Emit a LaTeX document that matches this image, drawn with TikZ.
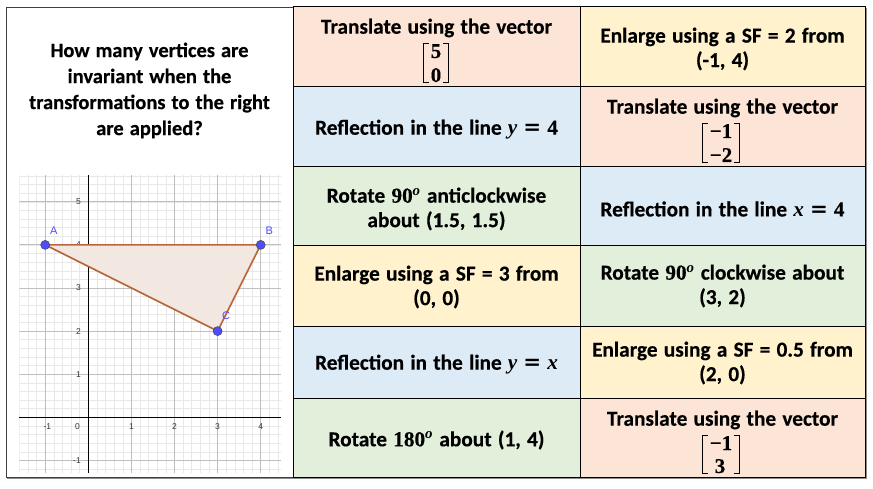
\documentclass[tikz,border=0pt]{standalone}
\usepackage{fontspec}
\usetikzlibrary{fit}
\setmainfont{Carlito}[BoldFeatures={FakeBold=0.4,WordSpace=1.3}]
\newfontfamily\gfont{Liberation Sans}
\newfontfamily\mfont{Liberation Serif}[BoldFeatures={FakeBold=0.3}]
\newfontfamily\dfont{DejaVu Serif}
\definecolor{peach}{HTML}{FCE4D6}
\definecolor{cyel}{HTML}{FFF2CC}
\definecolor{cblue}{HTML}{DDEBF7}
\definecolor{cgreen}{HTML}{E2EFDA}
\definecolor{tri}{HTML}{B8663C}
\definecolor{trifill}{HTML}{F3E7E1}
\definecolor{gblue}{HTML}{4D4DFF}
\tikzset{
  cellbox/.style={draw=black, line width=1pt, inner sep=0pt},
  celltext/.style={inner sep=0pt, align=center, font=\fontsize{21.3}{24.5}\selectfont\bfseries},
  vecdigit/.style={inner sep=0pt, text height=14pt, text depth=0pt, font=\mfont\fontsize{21}{24}\selectfont\bfseries},
  vecbox/.style={inner xsep=6.5pt, inner ysep=0.5pt},
  bracket/.style={draw=black, line width=1.1pt},
  question/.style={align=center, inner sep=0pt, font=\fontsize{20.5}{26}\selectfont\bfseries},
  minorgrid/.style={draw=black!9, line width=0.5pt},
  majorgrid/.style={draw=black!25, line width=0.8pt},
  axisline/.style={draw=black, line width=0.9pt},
  ticklab/.style={font=\gfont\fontsize{8.5}{9}\selectfont, text=black!80, inner sep=0pt},
  ptlab/.style={font=\gfont\fontsize{11}{12}\selectfont, text=gblue, inner sep=0pt},
  vertex/.style={circle, fill=gblue, draw=black!70, line width=0.6pt, minimum size=9pt, inner sep=0pt},
  shadow/.style={draw=black!45, line width=1.6pt}
}
\newcommand{\mv}[1]{{\mfont\bfseries\itshape #1}}
\newcommand{\mn}[1]{{\mfont\bfseries #1}}
\newcommand{\meq}{\hspace{6pt}{\dfont =}\hspace{6pt}}
\newcommand{\degr}[1]{\mn{#1}\textsuperscript{\mfont\bfseries\itshape o}}
\newcommand{\brackets}[1]{%
  \draw[bracket] ([xshift=5pt]#1.north west) -- (#1.north west) -- (#1.south west) -- ([xshift=5pt]#1.south west);
  \draw[bracket] ([xshift=-5pt]#1.north east) -- (#1.north east) -- (#1.south east) -- ([xshift=-5pt]#1.south east);}
\begin{document}
\begin{tikzpicture}[x=1pt,y=-1pt]
\useasboundingbox (0,0) rectangle (873,489);
\fill[white] (0,0) rectangle (873,489);

% left panel
\draw[shadow] (7,478.5) -- (294,478.5);
\node[draw=black!75, line width=1pt, minimum width=287pt, minimum height=470pt, inner sep=0pt, anchor=north west] (panel) at (6,7) {};
\node[question] (q) at (149.5,90.5) {How many vertices are\\invariant when the\\transformations to the right\\are applied?};

% graph
\begin{scope}[shift={(88.3,417.3)}, x=43.1pt, y=43.1pt]
  \begin{scope}
    \clip (-1.6,-1.29) rectangle (4.47,5.62);
    \draw[minorgrid] (-1.8,-1.4) grid[step=0.2] (4.6,5.8);
    \draw[majorgrid] (-1.8,-1.4) grid[step=1] (4.6,5.8);
  \end{scope}
  \draw[axisline] (-1.6,0) -- (4.47,0);
  \draw[axisline] (0,-1.29) -- (0,5.62);
  \node[ticklab] (xm1) at (-0.95,-0.225) {-1};
  \node[ticklab] (x0) at (-0.25,-0.225) {0};
  \node[ticklab] (x1) at (1,-0.225) {1};
  \node[ticklab] (x2) at (2,-0.225) {2};
  \node[ticklab] (x3) at (3,-0.225) {3};
  \node[ticklab] (x4) at (4,-0.225) {4};
  \node[ticklab, anchor=east] (y5) at (-0.17,5) {5};
  \node[ticklab, anchor=east] (y4) at (-0.17,4) {4};
  \node[ticklab, anchor=east] (y3) at (-0.17,3) {3};
  \node[ticklab, anchor=east] (y2) at (-0.17,2) {2};
  \node[ticklab, anchor=east] (y1) at (-0.17,1) {1};
  \node[ticklab, anchor=east] (ym1) at (-0.17,-1) {-1};
  \coordinate (pA) at (-1,4);
  \coordinate (pB) at (4,4);
  \coordinate (pC) at (3,2);
  \fill[trifill] (pA) -- (pB) -- (pC) -- cycle;
  \draw[tri, line width=1.7pt, line join=round] (pA) -- (pB) -- (pC) -- cycle;
  \node[vertex] (A) at (pA) {};
  \node[vertex] (B) at (pB) {};
  \node[vertex] (C) at (pC) {};
  \node[ptlab] (lA) at (-0.8,4.32) {A};
  \node[ptlab] (lB) at (4.2,4.32) {B};
  \node[ptlab] (lC) at (3.2,2.35) {C};
\end{scope}

% table shadow
\draw[shadow] (294,478.5) -- (866.5,478.5) -- (866.5,8);

% cells, left column
\node[cellbox, fill=peach, minimum width=287pt, minimum height=80pt] (c11) at (436.5,47) {};
\node[cellbox, fill=cblue, minimum width=287pt, minimum height=80pt] (c21) at (436.5,127) {};
\node[cellbox, fill=cgreen, minimum width=287pt, minimum height=79pt] (c31) at (436.5,206.5) {};
\node[cellbox, fill=cyel, minimum width=287pt, minimum height=80pt] (c41) at (436.5,286) {};
\node[cellbox, fill=cblue, minimum width=287pt, minimum height=72pt] (c51) at (436.5,362) {};
\node[cellbox, fill=cgreen, minimum width=287pt, minimum height=79pt] (c61) at (436.5,437.5) {};
% cells, right column
\node[cellbox, fill=cyel, minimum width=285pt, minimum height=80pt] (c12) at (722.5,47) {};
\node[cellbox, fill=peach, minimum width=285pt, minimum height=80pt] (c22) at (722.5,127) {};
\node[cellbox, fill=cblue, minimum width=285pt, minimum height=79pt] (c32) at (722.5,206.5) {};
\node[cellbox, fill=cgreen, minimum width=285pt, minimum height=80pt] (c42) at (722.5,286) {};
\node[cellbox, fill=cyel, minimum width=285pt, minimum height=72pt] (c52) at (722.5,362) {};
\node[cellbox, fill=peach, minimum width=285pt, minimum height=79pt] (c62) at (722.5,437.5) {};

% texts
\node[celltext] (t11) at (436.5,28) {Translate using the vector};
\node[vecdigit] (v11a) at (436,51) {5};
\node[vecdigit] (v11b) at (436,75) {0};
\node[vecbox, fit=(v11a)(v11b)] (v11) {};
\brackets{v11}
\node[celltext] (t21) at ([yshift=-2.5pt]c21.center) {Reflection in the line \mv{y}\meq\mn{4}};
\node[celltext] (t31) at ([yshift=-2.5pt]c31.center) {Rotate \degr{90} anticlockwise\\about (1.5, 1.5)};
\node[celltext] (t41) at ([yshift=-1pt]c41.center) {Enlarge using a SF = 3 from\\(0, 0)};
\node[celltext] (t51) at ([yshift=-2.5pt]c51.center) {Reflection in the line \mv{y}\meq\mv{x}};
\node[celltext] (t61) at ([yshift=-2.5pt]c61.center) {Rotate \degr{180} about (1, 4)};

\node[celltext] (t12) at ([yshift=-2pt]c12.center) {Enlarge using a SF = 2 from\\(-1, 4)};
\node[celltext] (t22) at (722.5,108) {Translate using the vector};
\node[vecdigit] (v22a) at (721,131) {−1};
\node[vecdigit] (v22b) at (721,155) {−2};
\node[vecbox, fit=(v22a)(v22b)] (v22) {};
\brackets{v22}
\node[celltext] (t32) at ([yshift=-2.5pt]c32.center) {Reflection in the line \mv{x}\meq\mn{4}};
\node[celltext] (t42) at ([yshift=0pt]c42.center) {Rotate \degr{90} clockwise about\\(3, 2)};
\node[celltext] (t52) at ([yshift=-1pt]c52.center) {Enlarge using a SF = 0.5 from\\(2, 0)};
\node[celltext] (t62) at (722.5,420) {Translate using the vector};
\node[vecdigit] (v62a) at (721,443) {−1};
\node[vecdigit] (v62b) at (720,466) {3};
\node[vecbox, fit=(v62a)(v62b)] (v62) {};
\brackets{v62}
\end{tikzpicture}
\end{document}
